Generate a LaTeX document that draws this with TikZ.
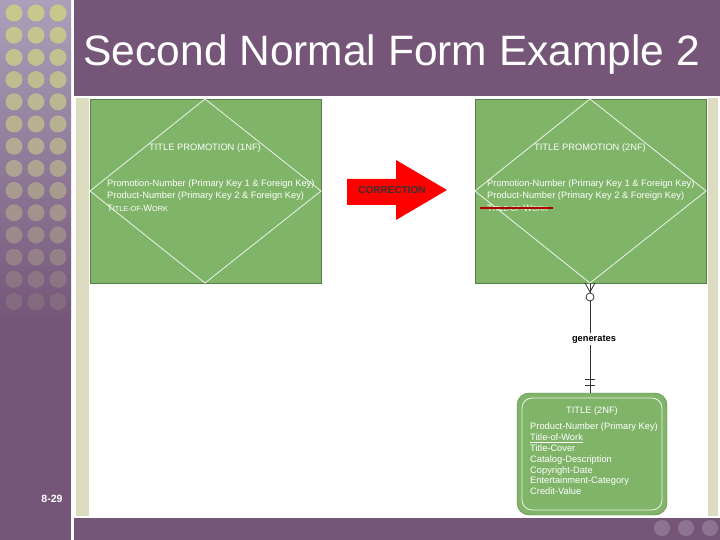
\documentclass[tikz,border=0pt]{standalone}
\usepackage{fontspec}
\setmainfont{Liberation Sans}
\begin{document}
\begin{tikzpicture}[x=1pt,y=-1pt,
 txt/.style={text=white,font=\fontsize{9.3}{10.8}\selectfont,inner sep=0pt},
 grn/.style={fill=gbox,draw=gbox!70!black,line width=0.4pt},
 dia/.style={draw=white!85!gbox,line width=0.8pt}]
\definecolor{purp}{RGB}{117,86,121}
\definecolor{lpurp}{RGB}{170,160,185}
\definecolor{gbox}{RGB}{128,180,105}
\definecolor{beige}{RGB}{221,219,192}
\definecolor{dotc}{RGB}{200,200,140}
\useasboundingbox (0,0) rectangle (720,540);
\fill[white] (0,0) rectangle (720,540);
% sidebar
\fill[purp] (0,0) rectangle (71,540);
\shade[top color=lpurp,bottom color=purp] (0,0) rectangle (71,320);
\foreach \r in {0,...,13}{
 \pgfmathsetmacro{\op}{1-\r*0.065}
 \foreach \c in {14,36,58}{
  \fill[dotc,opacity=\op] (\c,{13+\r*22.2}) circle (8.5);}}
\node[font=\bfseries\fontsize{10.5}{12}\selectfont,text=white] (pg) at (52,499) {8-29};
% title bar
\fill[purp] (74,0) rectangle (720,96);
\node[anchor=base west,text=white,font=\fontsize{42.5}{44}\selectfont] (ttl) at (80,66) {Second Normal Form Example 2};
% bottom bar
\fill[purp] (74,518) rectangle (720,540);
\foreach \c in {662,686,710}{\fill[white,opacity=0.18] (\c,528) circle (8);}
% beige strips
\fill[beige] (76,98) rectangle (89,516);
\fill[beige] (708,98) rectangle (718,516);
% left box
\draw[grn] (90,99) rectangle (321,283);
\draw[dia] (205,99) -- (321,191) -- (205,283) -- (90,191) -- cycle;
\node[txt] (l1) at (205,148) {TITLE PROMOTION (1NF)};
\node[txt,anchor=west] (l2) at (107,184) {Promotion-Number (Primary Key 1 \& Foreign Key)};
\node[txt,anchor=west] (l3) at (107,196) {Product-Number (Primary Key 2 \& Foreign Key)};
\node[txt,anchor=west] (l4) at (107,208) {T\fontsize{7.3}{8}\selectfont ITLE-OF-\fontsize{9.3}{10}\selectfont W\fontsize{7.3}{8}\selectfont ORK};
% arrow
\fill[red] (347,179) -- (396,179) -- (396,160) -- (447,190) -- (396,220) -- (396,205) -- (347,205) -- cycle;
\node[font=\bfseries\fontsize{10}{10}\selectfont,text=black!80] (cor) at (392,190) {CORRECTION};
% right box
\draw[grn] (475,99) rectangle (706,283);
\draw[dia] (590,99) -- (706,191) -- (590,283) -- (475,191) -- cycle;
\node[txt] (r1) at (590,148) {TITLE PROMOTION (2NF)};
\node[txt,anchor=west] (r2) at (487,184) {Promotion-Number (Primary Key 1 \& Foreign Key)};
\node[txt,anchor=west] (r3) at (487,196) {Product-Number (Primary Key 2 \& Foreign Key)};
\node[txt,anchor=west] (r4) at (487,208) {T\fontsize{7.3}{8}\selectfont ITLE-OF-\fontsize{9.3}{10}\selectfont W\fontsize{7.3}{8}\selectfont ORK};
\draw[red!70!black,line width=1.2pt] (480,208) -- (553,208);
% title entity
\draw[gbox!70!black,fill=gbox,rounded corners=12pt] (517,393) rectangle (667,515);
\draw[white!85!gbox,line width=0.8pt,rounded corners=10pt] (522,398) rectangle (662,510);
\coordinate (top) at (590,283);
\coordinate (bot) at (590,393);
\node[txt] (t0) at (592,411) {TITLE (2NF)};
\node[txt,anchor=north west,align=left] (t1) at (530,423)
 {Product-Number (Primary Key)\\\underline{Title-of-Work}\\Title-Cover\\Catalog-Description\\Copyright-Date\\Entertainment-Category\\Credit-Value};
% relationship
\node[fill=white,font=\bfseries\fontsize{9.3}{10}\selectfont,inner sep=2pt] (gen) at (594,339) {generates};
\draw[black!80,line width=0.8pt] (top) -- (gen.north -| top);
\draw[black!80,line width=0.8pt] (gen.south -| top) -- (bot);
\draw[black!80,line width=0.8pt,fill=white] (590,297) circle (4);
\draw[black!80,line width=0.8pt] (585,283) -- (590,292) -- (595,283);
\draw[black!80,line width=0.8pt] (585,379) -- (595,379) (585,385) -- (595,385);
\end{tikzpicture}
\end{document}
